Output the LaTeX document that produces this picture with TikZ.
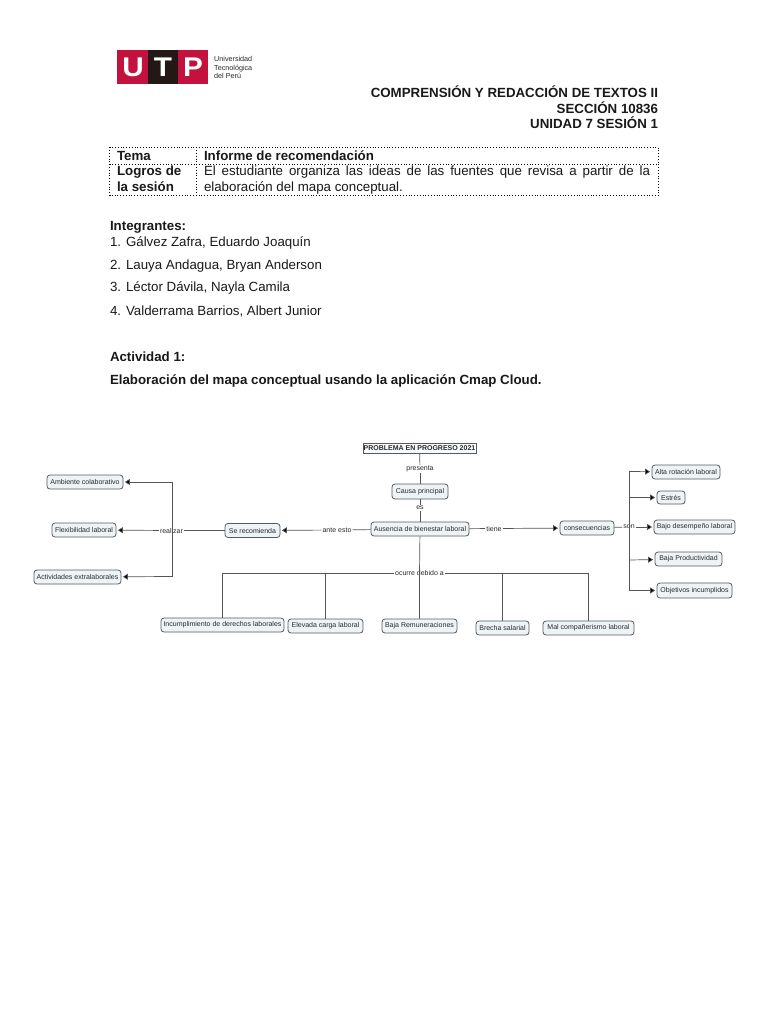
\documentclass[tikz,border=0pt]{standalone}
\usepackage{fontspec}
\setmainfont{Liberation Sans}
\usetikzlibrary{arrows.meta}
\definecolor{utpred}{HTML}{C4123F}
\definecolor{utpdark}{HTML}{231815}
\definecolor{boxfill}{HTML}{EEF3F6}
\definecolor{boxline}{HTML}{555B60}
\definecolor{lineg}{HTML}{555555}
\definecolor{textg}{HTML}{2A2A2A}
\tikzset{
  doc/.style={inner sep=0pt,outer sep=0pt,anchor=base west,font=\fontsize{13.3}{15}\selectfont,text=black!90},
  docb/.style={doc,font=\fontsize{13.3}{15}\selectfont\bfseries},
  head/.style={docb,anchor=base east},
  concept/.style={draw=boxline,fill=boxfill,rounded corners=3pt,line width=0.8pt,inner sep=0pt,
    font=\fontsize{7}{8}\selectfont,text=textg,align=center},
  title/.style={draw=boxline,fill=boxfill!40,line width=0.8pt,inner sep=0pt,
    font=\fontsize{7}{8}\selectfont\bfseries,text=textg,minimum width=113pt,minimum height=10pt},
  lbl/.style={inner sep=1pt,font=\fontsize{7}{8}\selectfont,text=textg},
  link/.style={draw=lineg,line width=0.7pt},
  linka/.style={link,-{Triangle[length=5pt,width=6pt,fill=black]},shorten >=1.5pt},
  dotline/.style={draw=black,line width=0.8pt,dotted,line cap=butt},
}
\begin{document}
\begin{tikzpicture}[x=1pt,y=-1pt]
\useasboundingbox[fill=white] (0,0) rectangle (768,1024);
% logo
\fill[utpred] (117.3,50.3) rectangle (148,83.7);
\fill[utpdark] (148,50.3) rectangle (178,83.7);
\fill[utpred] (178,50.3) rectangle (207.7,83.7);
\node[inner sep=0pt,text=white,font=\fontsize{27}{27}\selectfont\bfseries,xscale=1.1] (logoU) at (133,67) {U};
\node[inner sep=0pt,text=white,font=\fontsize{27}{27}\selectfont\bfseries,xscale=1.1] (logoT) at (163,67) {T};
\node[inner sep=0pt,text=white,font=\fontsize{27}{27}\selectfont\bfseries,xscale=1.1] (logoP) at (193,67) {P};
\node[inner sep=0pt,anchor=west,align=left,text=black!85,font=\fontsize{7.2}{8.4}\selectfont] (logotxt) at (214,67.5) {Universidad\\Tecnológica\\del Perú};
% heading
\node[head] (h1) at (658,98) {COMPRENSIÓN Y REDACCIÓN DE TEXTOS II};
\node[head] (h2) at (658,114) {SECCIÓN 10836};
\node[head] (h3) at (658,129) {UNIDAD 7 SESIÓN 1};
% table
\draw[dotline] (109.5,147.5) rectangle (658,195.7);
\draw[dotline] (109.5,164) -- (658,164);
\draw[dotline] (196.7,147.5) -- (196.7,195.7);
\node[docb] (t1) at (117,160.7) {Tema};
\node[docb] (t2) at (204,160.7) {Informe de recomendación};
\node[docb] (t3) at (117,176) {Logros de};
\node[docb] (t4) at (117,191.7) {la sesión};
\node[doc] (t5) at (204,176) {\makebox[446pt][s]{El estudiante organiza las ideas de las fuentes que revisa a partir de la}};
\node[doc] (t6) at (204,191.7) {elaboración del mapa conceptual.};
% members
\node[docb] (i0) at (110,230.5) {Integrantes:};
\node[doc] (i1) at (110,246.7) {1. Gálvez Zafra, Eduardo Joaquín};
\node[doc] (i2) at (110,269) {2. Lauya Andagua, Bryan Anderson};
\node[doc] (i3) at (110,291.7) {3. Léctor Dávila, Nayla Camila};
\node[doc] (i4) at (110,315) {4. Valderrama Barrios, Albert Junior};
\node[docb] (a1) at (110,361) {Actividad 1:};
\node[docb] (a2) at (110,384) {Elaboración del mapa conceptual usando la aplicación Cmap Cloud.};
% concepts
\node[title] (prob) at (419.5,448) {PROBLEMA EN PROGRESO 2021};
\node[concept,minimum width=56pt,minimum height=15pt] (causa) at (420,491.5) {Causa principal};
\node[concept,minimum width=98pt,minimum height=14pt] (aus) at (420,529) {Ausencia de bienestar laboral};
\node[concept,minimum width=55pt,minimum height=14pt] (serec) at (252.5,530.5) {Se recomienda};
\node[concept,minimum width=76pt,minimum height=14pt] (amb) at (85,482) {Ambiente colaborativo};
\node[concept,minimum width=64pt,minimum height=14pt] (flex) at (84,530) {Flexibilidad laboral};
\node[concept,minimum width=87pt,minimum height=14pt] (act) at (77.5,577) {Actividades extralaborales};
\node[concept,minimum width=54pt,minimum height=14pt] (cons) at (587,528) {consecuencias};
\node[concept,minimum width=68pt,minimum height=14pt] (alta) at (686,472) {Alta rotación laboral};
\node[concept,minimum width=28pt,minimum height=13pt] (estres) at (671,497.5) {Estrés};
\node[concept,minimum width=81pt,minimum height=14pt] (bajod) at (694.5,527) {Bajo desempeño laboral};
\node[concept,minimum width=67pt,minimum height=14pt] (bajap) at (688.5,559) {Baja Productividad};
\node[concept,minimum width=75pt,minimum height=15pt] (obj) at (694.5,590.5) {Objetivos incumplidos};
\node[concept,minimum width=123pt,minimum height=14pt] (inc) at (222.5,625) {Incumplimiento de derechos laborales};
\node[concept,minimum width=75pt,minimum height=14pt] (elev) at (325.5,626) {Elevada carga laboral};
\node[concept,minimum width=75pt,minimum height=14pt] (bajar) at (419.5,626) {Baja Remuneraciones};
\node[concept,minimum width=53pt,minimum height=14pt] (brecha) at (502.5,628) {Brecha salarial};
\node[concept,minimum width=91pt,minimum height=14pt] (mal) at (588.5,628) {Mal compañerismo laboral};
% link labels
\node[lbl] (presenta) at (420,469) {presenta};
\node[lbl] (es) at (420,508) {es};
\node[lbl] (ante) at (337,530) {ante esto};
\node[lbl] (realizar) at (171.5,530.5) {realizar};
\node[lbl] (tiene) at (494,528.5) {tiene};
\node[lbl] (son) at (629,527) {son};
\node[lbl] (ocu) at (419.5,573) {ocurre debido a};
\coordinate (jamb) at (172,482);
\coordinate (jact) at (172,576.5);
\coordinate (jalta) at (629,471.5);
\coordinate (jest) at (629,497.5);
\coordinate (jbajap) at (629,560);
\coordinate (jobj) at (629,590.5);
% connectors
\draw[link] (prob) -- (presenta);
\draw[link] (presenta) -- (causa);
\draw[link] (causa) -- (es);
\draw[link] (es) -- (aus);
\draw[link] (aus) -- (ante);
\draw[linka] (ante) -- (serec);
\draw[link] (serec) -- (realizar);
\draw[linka] (realizar) -- (flex);
\draw[link] (jamb) -- (jact);
\draw[linka] (jamb) -- (amb);
\draw[linka] (jact) -- (act);
\draw[link] (aus) -- (tiene);
\draw[linka] (tiene) -- (cons);
\draw[link] (cons) -- (son);
\draw[linka] (son) -- (bajod);
\draw[link] (jalta) -- (jobj);
\draw[linka] (jalta) -- (alta);
\draw[linka] (jest) -- (estres);
\draw[linka] (jbajap) -- (bajap);
\draw[linka] (jobj) -- (obj);
\draw[link] (aus) -- (ocu.center) -- (bajar);
\draw[link] (ocu) -| (inc);
\draw[link] (ocu) -| (elev);
\draw[link] (ocu) -| (brecha);
\draw[link] (ocu) -| (mal);
\end{tikzpicture}
\end{document}
